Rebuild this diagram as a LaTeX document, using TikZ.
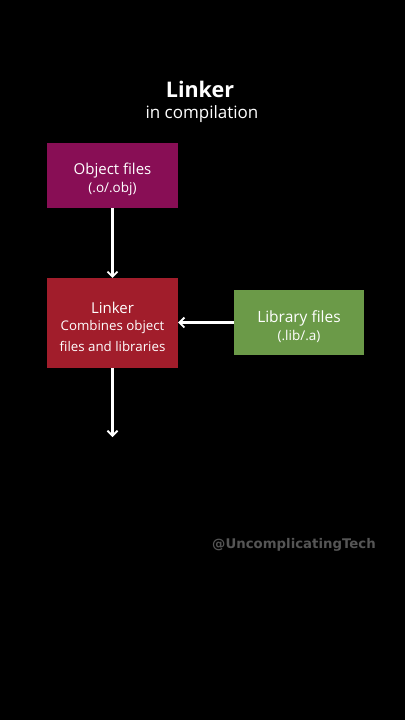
\documentclass[tikz,border=0pt]{standalone}
\usepackage{fontspec}
\setmainfont{Open Sans}
\newfontfamily\wmfont{DejaVu Sans}
\usetikzlibrary{arrows.meta}
\definecolor{objc}{HTML}{880E55}
\definecolor{linkc}{HTML}{A11D2B}
\definecolor{libc}{HTML}{6B9A48}
\definecolor{wmc}{HTML}{555555}
\tikzset{
  box/.style={draw=none, inner sep=0pt, align=center, text=white},
  lbl/.style={text=white, inner sep=0pt},
  conn/.style={draw=white, line width=2.2pt, -{Straight Barb[length=5pt,width=10pt,line width=1.8pt]}},
}
\begin{document}
\begin{tikzpicture}[x=1pt,y=-1pt]
\fill[black] (0,0) rectangle (405,720);
\useasboundingbox (0,0) rectangle (405,720);
\node[text=white, font=\bfseries\fontsize{21.5}{24}\selectfont] (title) at (200,89) {Linker};
\node[text=white, font=\fontsize{17}{20}\selectfont] (sub) at (202,114) {in compilation};
\node[box, fill=objc, minimum width=131pt, minimum height=65pt] (obj) at (112.5,175.5) {};
\node[lbl, font=\fontsize{15}{17}\selectfont] (objt1) at (112.5,171) {Object files};
\node[lbl, font=\fontsize{13.5}{16}\selectfont] (objt2) at (112.5,189) {(.o/.obj)};
\node[box, fill=linkc, minimum width=131pt, minimum height=90pt] (link) at (112.5,323) {};
\node[lbl, font=\fontsize{15}{17}\selectfont] (lt1) at (112.5,308) {Linker};
\node[lbl, font=\fontsize{13.3}{16}\selectfont] (lt2) at (112.5,327) {Combines object};
\node[lbl, font=\fontsize{13.3}{16}\selectfont] (lt3) at (112.5,346) {files and libraries};
\node[box, fill=libc, minimum width=130pt, minimum height=65pt] (lib) at (299,322.5) {};
\node[lbl, font=\fontsize{15.5}{18}\selectfont] (libt1) at (299,318) {Library files};
\node[lbl, font=\fontsize{13.5}{16}\selectfont] (libt2) at (299,336) {(.lib/.a)};
\coordinate (out) at (112.5,437);
\draw[conn] (obj.south) -- (link.north);
\draw[conn] (lib.west) -- (link.east |- lib.west);
\draw[conn] (link.south) -- (out);
\node[text=wmc, font=\wmfont\bfseries\fontsize{13.3}{15}\selectfont] (wm) at (294,545) {@UncomplicatingTech};
\end{tikzpicture}
\end{document}
